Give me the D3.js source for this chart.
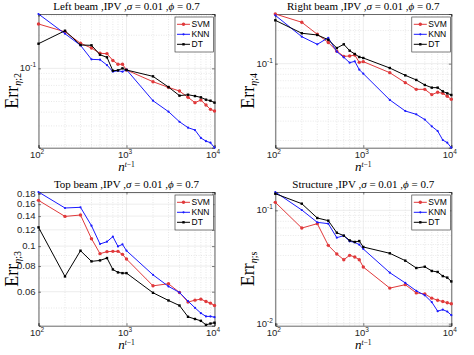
<!DOCTYPE html>
<html><head><meta charset="utf-8">
<script src="https://cdn.jsdelivr.net/npm/d3@7"></script>
<style>body{margin:0;background:#fff}svg{display:block}</style>
</head><body><svg id="c" width="474" height="355"></svg>
<script>
// ---------- data ----------
const sampleSizes = [100,200,300,400,500,600,700,800,900,1000,2000,3000,4000,5000,6000,7000,8000,9000,10000];
const seriesNames = ["SVM","KNN","DT"];
const xTickValues = [100,1000,10000];

const leftSVM = [0.253,0.215,0.169,0.153,0.137,0.136,0.118,0.109,0.109,0.0966,0.0756,0.0672,0.0622,0.0545,0.0488,0.0515,0.0464,0.0424,0.0409];
const leftKNN = [0.312,0.2065,0.162,0.1207,0.1199,0.1072,0.0933,0.0952,0.0933,0.0972,0.0508,0.0404,0.0327,0.0289,0.0275,0.0233,0.0218,0.0211,0.0190];
const leftDT  = [0.1675,0.2198,0.163,0.162,0.133,0.126,0.0952,0.0959,0.1,0.0966,0.0846,0.0676,0.0565,0.0576,0.0560,0.0545,0.0519,0.0508,0.0488];

const rightSVM = [0.283,0.238,0.185,0.156,0.130,0.1166,0.1174,0.1199,0.1028,0.1043,0.0828,0.0672,0.0584,0.0584,0.0523,0.0549,0.0537,0.0505,0.0474];
const rightKNN = [0.275,0.176,0.150,0.172,0.1285,0.1142,0.1021,0.1050,0.0882,0.0811,0.0468,0.0371,0.0346,0.0310,0.0269,0.0244,0.0202,0.0191,0.0172];
const rightDT  = [0.248,0.189,0.1824,0.165,0.1387,0.150,0.1312,0.1224,0.1150,0.1126,0.0913,0.0783,0.0711,0.0640,0.0605,0.0605,0.0560,0.0537,0.0519];

const topSVM = [0.167,0.1395,0.1417,0.1087,0.0919,0.0940,0.0943,0.0943,0.0912,0.0865,0.0641,0.0656,0.0595,0.0534,0.0546,0.0552,0.0538,0.0528,0.0514];
const topKNN = [0.1834,0.1533,0.1545,0.1257,0.1024,0.1051,0.1112,0.0997,0.1020,0.0950,0.0725,0.0637,0.0595,0.0540,0.0501,0.0472,0.0455,0.0455,0.0451];
const topDT  = [0.1234,0.0712,0.0950,0.0843,0.0852,0.0875,0.0770,0.0745,0.0739,0.0739,0.0593,0.0544,0.0514,0.0453,0.0442,0.0433,0.0414,0.0420,0.0424];

const structSVM = [0.1177,0.0698,0.0763,0.0491,0.0412,0.0367,0.0401,0.0388,0.0367,0.0316,0.0206,0.0221,0.0187,0.0183,0.0168,0.0161,0.0157,0.0153,0.0150];
const structKNN = [0.1452,0.1007,0.0784,0.0763,0.0574,0.0598,0.0533,0.0522,0.0498,0.0456,0.0282,0.0229,0.0195,0.0178,0.0155,0.0129,0.0133,0.0128,0.0119];
const structDT  = [0.1403,0.1145,0.0856,0.0811,0.0635,0.0598,0.0543,0.0526,0.0536,0.0475,0.0418,0.0360,0.0310,0.0318,0.0292,0.0286,0.0263,0.0255,0.0236];

const leftYDomain = [0.0190,0.312];
const rightYDomain = [0.0172,0.283];
const topYDomain = [0.0410,0.1834];
const structYDomain = [0.0096,0.1452];

const leftYTicks = [0.1];
const rightYTicks = [0.1];
const topYTicks = [0.06,0.08,0.1,0.12,0.14,0.16,0.18];
const structYTicks = [0.01,0.1];

// ---------- layout / style ----------
const colors = {SVM:"#e0393b", KNN:"#1a1aff", DT:"#000000"};
const PW = 176, PH = 133.7;
const panels = [
  {x:38.5, y:14,  name:"Left beam", sub:"2", d:[leftSVM,leftKNN,leftDT], dom:leftYDomain, ticks:leftYTicks, dec:true},
  {x:275.3,y:14,  name:"Right beam", sub:"4", d:[rightSVM,rightKNN,rightDT], dom:rightYDomain, ticks:rightYTicks, dec:true},
  {x:38.5, y:192, name:"Top beam", sub:"3", d:[topSVM,topKNN,topDT], dom:topYDomain, ticks:topYTicks, dec:false},
  {x:275.3,y:192, name:"Structure", sub:"s", d:[structSVM,structKNN,structDT], dom:structYDomain, ticks:structYTicks, dec:true}
];

const svg = d3.select("#c");
const sans = "'Liberation Sans', Arial, sans-serif";
const serif = "'Liberation Serif', 'DejaVu Serif', 'Times New Roman', serif";

function minorLogValues(dom){
  const out=[];
  const lo=Math.floor(Math.log10(dom[0])), hi=Math.ceil(Math.log10(dom[1]));
  for(let e=lo;e<=hi;e++) for(let k=1;k<=9;k++){
    const v=+(k*Math.pow(10,e)).toPrecision(6);
    if(v>=dom[0]&&v<=dom[1]) out.push(v);
  }
  return out;
}

panels.forEach(p=>{
  const g = svg.append("g").attr("transform",`translate(${p.x},${p.y})`);
  const x = d3.scaleLog().domain([100,10000]).range([0,PW]);
  const y = d3.scaleLog().domain(p.dom).range([PH,0]);

  const xMinor = minorLogValues([100,10000]).filter(v=>!xTickValues.includes(v));
  const yMinor = minorLogValues(p.dom).filter(v=>!p.ticks.includes(v));
  g.selectAll(".gxm").data(xMinor).join("line")
    .attr("x1",d=>x(d)).attr("x2",d=>x(d)).attr("y1",0).attr("y2",PH)
    .attr("stroke","#d9d9d9").attr("stroke-width",0.6).attr("stroke-dasharray","1,1.5");
  g.selectAll(".gym").data(yMinor).join("line")
    .attr("y1",d=>y(d)).attr("y2",d=>y(d)).attr("x1",0).attr("x2",PW)
    .attr("stroke","#d9d9d9").attr("stroke-width",0.6).attr("stroke-dasharray","1,1.5");
  g.selectAll(".gx").data(xTickValues).join("line")
    .attr("x1",d=>x(d)).attr("x2",d=>x(d)).attr("y1",0).attr("y2",PH)
    .attr("stroke","#e0e0e0").attr("stroke-width",0.6);
  g.selectAll(".gy").data(p.ticks).join("line")
    .attr("y1",d=>y(d)).attr("y2",d=>y(d)).attr("x1",0).attr("x2",PW)
    .attr("stroke","#e0e0e0").attr("stroke-width",0.6);

  const xAxis = d3.axisBottom(x).tickValues(xTickValues).tickSize(-2.5).tickFormat("");
  const xAxisTop = d3.axisTop(x).tickValues(xTickValues).tickSize(-2.5).tickFormat("");
  const yAxis = d3.axisLeft(y).tickValues(p.ticks).tickSize(-2.5).tickFormat("");
  const yAxisR = d3.axisRight(y).tickValues(p.ticks).tickSize(-2.5).tickFormat("");
  [[xAxis,`translate(0,${PH})`],[xAxisTop,"translate(0,0)"],[yAxis,"translate(0,0)"],[yAxisR,`translate(${PW},0)`]].forEach(([ax,t])=>{
    const a=g.append("g").attr("transform",t).call(ax);
    a.select(".domain").attr("stroke","#262626").attr("stroke-width",0.7);
    a.selectAll(".tick line").attr("stroke","#262626").attr("stroke-width",0.6);
  });

  xTickValues.forEach(v=>{
    const t=g.append("text").attr("x",x(v)-1.5).attr("y",PH+10)
      .attr("text-anchor","middle").attr("font-family",sans).attr("font-size",9.5).attr("fill","#262626");
    t.append("tspan").text("10");
    t.append("tspan").attr("dy",-4).attr("font-size",6.5).text(String(Math.round(Math.log10(v))));
  });
  p.ticks.forEach(v=>{
    if(p.dec){
      const e=Math.round(Math.log10(v));
      const t=g.append("text").attr("x",-2.5).attr("y",y(v)+3)
        .attr("text-anchor","end").attr("font-family",sans).attr("font-size",9.5).attr("fill","#262626");
      t.append("tspan").text("10");
      t.append("tspan").attr("dy",-4).attr("font-size",6.5).text(e<0?"-"+(-e):String(e));
    } else {
      g.append("text").attr("x",-3).attr("y",y(v)+3.3)
        .attr("text-anchor","end").attr("font-family",sans).attr("font-size",9.5).attr("fill","#262626")
        .text(String(v));
    }
  });

  seriesNames.forEach((s,i)=>{
    const vals=p.d[i];
    const pts=sampleSizes.map((n,j)=>[n,vals[j]]);
    g.append("path").datum(pts)
      .attr("fill","none").attr("stroke",colors[s]).attr("stroke-width",1)
      .attr("d",d3.line().x(d=>x(d[0])).y(d=>y(d[1])));
    if(s==="DT"){
      g.selectAll(null).data(pts).join("rect")
        .attr("x",d=>x(d[0])-1.2).attr("y",d=>y(d[1])-1.2).attr("width",2.4).attr("height",2.4)
        .attr("fill",colors[s]);
    } else {
      g.selectAll(null).data(pts).join("circle")
        .attr("cx",d=>x(d[0])).attr("cy",d=>y(d[1])).attr("r",s==="SVM"?1.7:1.1)
        .attr("fill",colors[s]);
    }
  });

  const tt=g.append("text").attr("x",PW/2).attr("y",-4).attr("text-anchor","middle")
    .attr("font-family",serif).attr("font-size",11).attr("fill","#000");
  tt.append("tspan").text(p.name+" ,IPV ,");
  tt.append("tspan").attr("font-style","italic").text("σ");
  tt.append("tspan").text(" = 0.01 ,");
  tt.append("tspan").attr("font-style","italic").text("ϕ");
  tt.append("tspan").text(" = 0.7");

  const yl=g.append("text").attr("transform",`translate(${-21},${PH/2+10}) rotate(-90)`)
    .attr("text-anchor","middle").attr("font-family",serif).attr("font-size",18).attr("fill","#000");
  yl.append("tspan").text("Err");
  yl.append("tspan").attr("dy",3).attr("font-size",10).attr("font-style","italic").text("η");
  yl.append("tspan").attr("font-size",10).text(";"+p.sub);

  const xl=g.append("text").attr("x",PW/2).attr("y",PH+23.5).attr("text-anchor","middle")
    .attr("font-family",serif).attr("font-size",13).attr("fill","#000");
  xl.append("tspan").attr("font-style","italic").text("n");
  xl.append("tspan").attr("dy",-4.5).attr("font-size",7.5).attr("font-style","italic").text("t");
  xl.append("tspan").attr("font-size",7.5).text("−1");

  const lg=g.append("g").attr("transform",`translate(${PW-39.5},3)`);
  lg.append("rect").attr("width",38.5).attr("height",35).attr("fill","#fff")
    .attr("stroke","#262626").attr("stroke-width",0.6);
  seriesNames.forEach((s,i)=>{
    const yy=7.3+i*10;
    lg.append("line").attr("x1",2).attr("x2",15).attr("y1",yy).attr("y2",yy)
      .attr("stroke",colors[s]).attr("stroke-width",1);
    if(s==="DT") lg.append("rect").attr("x",7.3).attr("y",yy-1.2).attr("width",2.4).attr("height",2.4).attr("fill",colors[s]);
    else lg.append("circle").attr("cx",8.5).attr("cy",yy).attr("r",s==="SVM"?1.7:1.1).attr("fill",colors[s]);
    lg.append("text").attr("x",16.5).attr("y",yy+3).attr("font-family",sans).attr("font-size",8.5)
      .attr("fill","#000").text(s);
  });
});
</script></body></html>
